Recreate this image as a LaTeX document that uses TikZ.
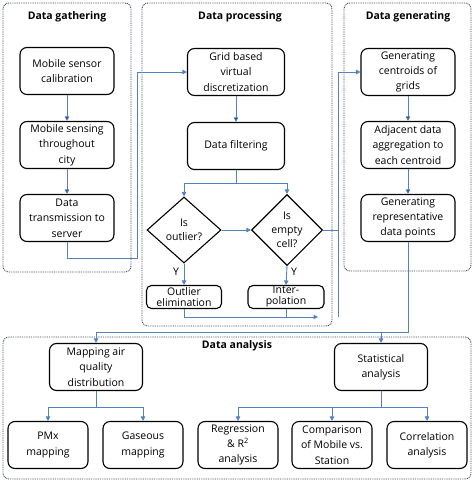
\documentclass[tikz,border=0pt]{standalone}
\usepackage{fontspec}
\setmainfont{Open Sans}
\usetikzlibrary{positioning, shapes.geometric, arrows.meta}
\definecolor{flowblue}{RGB}{84,130,186}
\definecolor{panelgray}{RGB}{62,72,94}

\begin{document}
\begin{tikzpicture}[x=1pt, y=-1pt]

\tikzset{box/.style={draw=black, line width=1.1, rounded corners=7, fill=white, align=center, inner sep=1, font=\fontsize{10.5}{15.3}\selectfont}}
\tikzset{smallbox/.style={box, rounded corners=5, minimum height=23, font=\fontsize{10.5}{11}\selectfont}}
\tikzset{decide/.style={draw=black, line width=1.1, shape=diamond, align=center, inner sep=-4, font=\fontsize{10.5}{14}\selectfont}}
\tikzset{panel/.style={draw=panelgray, line width=0.9, dash pattern=on 0.9 off 0.9, rounded corners=6}}
\tikzset{title/.style={font=\fontsize{10.5}{12}\selectfont\bfseries}}
\tikzset{line/.style={draw=flowblue, line width=0.9}}
\tikzset{flow/.style={line, -{Triangle[length=4.5, width=4.5]}}}

\useasboundingbox (0,0) rectangle (474,482);

% panels
\draw[panel] (3,3) rectangle (131,272);
\draw[panel] (142,3) rectangle (332,326);
\draw[panel] (344,3) rectangle (471,271);
\draw[panel] (3,337) rectangle (471,479);
\node[title] (tgather) at (67,17) {Data gathering};
\node[title] (tproc) at (240,17) {Data processing};
\node[title] (tgen) at (408,17) {Data generating};
\node[title] (tana) at (237,346) {Data analysis};

% data gathering
\node[box, minimum width=94, minimum height=47] (calib) at (67,71) {Mobile sensor\\calibration};
\node[box, minimum width=94, minimum height=47] (sensing) at (67,145) {Mobile sensing\\throughout\\city};
\node[box, minimum width=94, minimum height=47] (transm) at (67,218) {Data\\transmission to\\server};

% data processing
\node[box, minimum width=97, minimum height=47] (grid) at (236,72) {Grid based\\virtual\\discretization};
\node[box, minimum width=97, minimum height=47] (filter) at (236,146) {Data filtering};
\node[decide, minimum width=74, minimum height=66] (outlier) at (184,230) {Is\\outlier?};
\node[decide, minimum width=71, minimum height=71] (empty) at (287,230) {Is\\empty\\cell?};
\node[smallbox, minimum width=75] (elim) at (184,297) {Outlier\\elimination};
\node[smallbox, minimum width=76] (interp) at (286,297) {Inter-\\polation};
\node[font=\fontsize{10.5}{12}\selectfont] (yes1) at (176,272) {Y};
\node[font=\fontsize{10.5}{12}\selectfont] (yes2) at (294,272) {Y};

% data generating
\node[box, minimum width=94, minimum height=47] (centr) at (408,72) {Generating\\centroids of\\grids};
\node[box, minimum width=94, minimum height=47] (aggr) at (408,145) {Adjacent data\\aggregation to\\each centroid};
\node[box, minimum width=94, minimum height=47] (repr) at (408,218) {Generating\\representative\\data points};

% data analysis
\node[box, minimum width=93, minimum height=47] (mapping) at (96,367) {Mapping air\\quality\\distribution};
\node[box, minimum width=93, minimum height=47] (stat) at (381,367) {Statistical\\analysis};
\node[box, minimum width=80, minimum height=47] (pmx) at (48,445) {PMx\\mapping};
\node[box, minimum width=80, minimum height=47] (gas) at (143,445) {Gaseous\\mapping};
\node[box, minimum width=80, minimum height=47] (regr) at (238,445) {Regression\\\& R\textsuperscript{2}\\analysis};
\node[box, minimum width=80, minimum height=47] (comp) at (332,445) {Comparison\\of Mobile vs.\\Station};
\node[box, minimum width=80, minimum height=47] (corr) at (427,445) {Correlation\\analysis};

% helper points
\coordinate (c1) at (137,258);
\coordinate (c2) at (236,183);
\coordinate (c3) at (318,317);
\coordinate (c4) at (338,317);
\coordinate (c5) at (96,332);
\coordinate (c6) at (96,407);
\coordinate (c7) at (381,407);

% connectors
\draw[flow] (calib) edge (sensing);
\draw[flow] (sensing) edge (transm);
\draw[flow] (transm.south) |- (c1) |- (grid.west);
\draw[flow] (grid) edge (filter);
\draw[flow] (filter.south) -- (c2) -| (outlier.north);
\draw[flow] (c2) -| (empty.north);
\draw[flow] (outlier.east) -- (empty.west);
\draw[flow] (outlier.south) -- (elim.north);
\draw[flow] (empty.south) -- (interp.north);
\draw[flow] (elim.south) |- (c3);
\draw[line] (interp.south) -- (interp.south |- c3);
\draw[line] (empty.east) -- (empty.east -| c4);
\draw[flow] (c4) |- (centr.west);
\draw[flow] (centr) edge (aggr);
\draw[flow] (aggr) edge (repr);
\draw[flow] (repr.south) |- (c5) -- (mapping.north);
\draw[flow] (repr.south |- c5) -| (stat.north);
\draw[line] (mapping.south) -- (c6);
\draw[flow] (c6) -| (pmx.north);
\draw[flow] (c6) -| (gas.north);
\draw[line] (stat.south) -- (c7);
\draw[flow] (c7) -| (regr.north);
\draw[flow] (c7) -| (comp.north);
\draw[flow] (c7) -| (corr.north);

\end{tikzpicture}
\end{document}
